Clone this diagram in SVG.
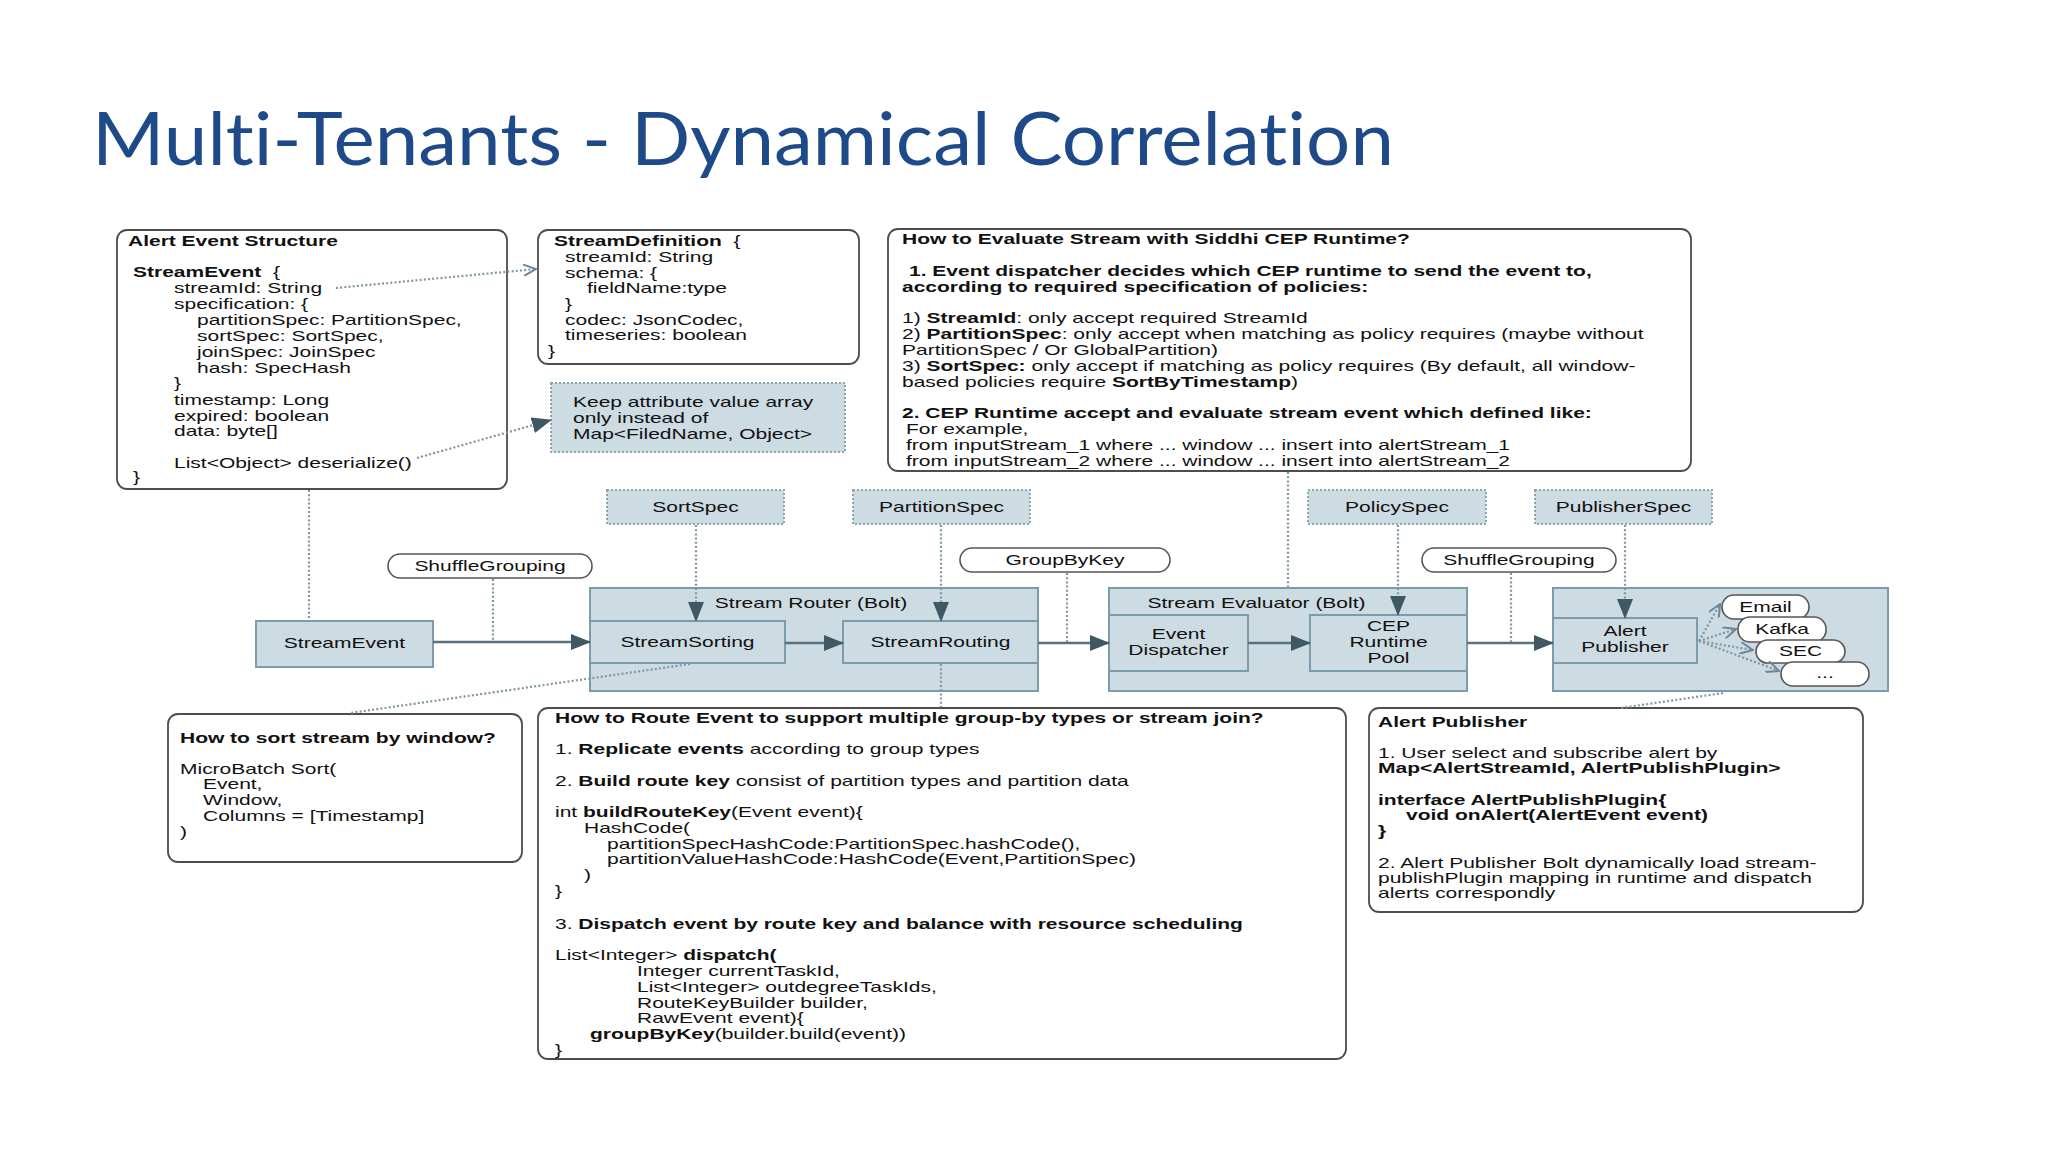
<svg xmlns="http://www.w3.org/2000/svg" width="2048" height="1152" viewBox="0 0 2048 1152">
<defs>
<style>
.t{font-family:"Liberation Sans",Arial,Helvetica,sans-serif;font-size:14px;fill:#111}
.b{font-weight:bold}
.c{text-anchor:middle}
.note{fill:#fff;stroke:#4d4d4d;stroke-width:1.8}
.node{fill:#cddbe2;stroke:#7d9cab;stroke-width:2}
.spec{fill:#cddbe2;stroke:#8ea6b2;stroke-width:2;stroke-dasharray:2 2}
.pill{fill:#fff;stroke:#555;stroke-width:1.6}
.flow{stroke:#5a727d;stroke-width:2.5;fill:none}
.dot{stroke:#7f97a3;stroke-width:2.2;fill:none;stroke-dasharray:2 2.2}
.title{font-family:Lato,"Open Sans",sans-serif;font-size:74px;fill:#1f4a8a;font-variant-ligatures:none}
</style>
<marker id="ah" viewBox="0 0 20 16" markerWidth="20" markerHeight="16" refX="19" refY="8" orient="auto" markerUnits="userSpaceOnUse">
<path d="M0,0 L20,8 L0,16 z" fill="#3f5863"/>
</marker>
<marker id="oh" viewBox="0 0 14 12" markerWidth="14" markerHeight="12" refX="13" refY="6" orient="auto" markerUnits="userSpaceOnUse">
<path d="M0,0 L13,6 L0,12" fill="none" stroke="#6d8794" stroke-width="2"/>
</marker>
</defs>
<rect width="2048" height="1152" fill="#fff"/>
<text class="title" x="92" y="165" textLength="1302" lengthAdjust="spacingAndGlyphs">Multi-Tenants - Dynamical Correlation</text>

<g id="alert-event-structure">
<rect class="note" x="117" y="230" width="390" height="259" rx="10"/>
<g transform="scale(1.5 1)">
<text class="t b" x="85.33" y="246">Alert Event Structure</text>
<text class="t" x="88.67" y="277"><tspan class="b">StreamEvent</tspan>&#160; {</text>
<text class="t" x="116" y="293">streamId: String</text>
<text class="t" x="116" y="309">specification: {</text>
<text class="t" x="131.33" y="325">partitionSpec: PartitionSpec,</text>
<text class="t" x="131.33" y="341">sortSpec: SortSpec,</text>
<text class="t" x="131.33" y="357">joinSpec: JoinSpec</text>
<text class="t" x="131.33" y="373">hash: SpecHash</text>
<text class="t" x="116" y="388">}</text>
<text class="t" x="116" y="405">timestamp: Long</text>
<text class="t" x="116" y="421">expired: boolean</text>
<text class="t" x="116" y="436">data: byte[]</text>
<text class="t" x="116" y="468">List&lt;Object&gt; deserialize()</text>
<text class="t" x="88.67" y="482">}</text>
</g>
</g>

<g id="stream-definition">
<rect class="note" x="538" y="230" width="321" height="134" rx="10"/>
<g transform="scale(1.5 1)">
<text class="t" x="369.33" y="246"><tspan class="b">StreamDefinition</tspan>&#160; {</text>
<text class="t" x="376.67" y="262">streamId: String</text>
<text class="t" x="376.67" y="278">schema: {</text>
<text class="t" x="391.33" y="293">fieldName:type</text>
<text class="t" x="376.67" y="309">}</text>
<text class="t" x="376.67" y="325">codec: JsonCodec,</text>
<text class="t" x="376.67" y="340">timeseries: boolean</text>
<text class="t" x="365.33" y="356">}</text>
</g>
</g>

<g id="keep-attribute">
<rect class="spec" x="551" y="383" width="294" height="69"/>
<g transform="scale(1.5 1)">
<text class="t" x="382" y="407">Keep attribute value array</text>
<text class="t" x="382" y="423">only instead of</text>
<text class="t" x="382" y="439">Map&lt;FiledName, Object&gt;</text>
</g>
</g>

<g id="evaluate-note">
<rect class="note" x="888" y="229" width="803" height="242" rx="10"/>
<g transform="scale(1.5 1)">
<text class="t b" x="601.33" y="244">How to Evaluate Stream with Siddhi CEP Runtime?</text>
<text class="t b" x="606" y="276">1. Event dispatcher decides which CEP runtime to send the event to,</text>
<text class="t b" x="601.33" y="292">according to required specification of policies:</text>
<text class="t" x="601.33" y="323">1) <tspan class="b">StreamId</tspan>: only accept required StreamId</text>
<text class="t" x="601.33" y="339">2) <tspan class="b">PartitionSpec</tspan>: only accept when matching as policy requires (maybe without</text>
<text class="t" x="601.33" y="355">PartitionSpec / Or GlobalPartition)</text>
<text class="t" x="601.33" y="371">3) <tspan class="b">SortSpec:</tspan> only accept if matching as policy requires (By default, all window-</text>
<text class="t" x="601.33" y="387">based policies require <tspan class="b">SortByTimestamp</tspan>)</text>
<text class="t b" x="601.33" y="418">2. CEP Runtime accept and evaluate stream event which defined like:</text>
<text class="t" x="604" y="434">For example,</text>
<text class="t" x="604" y="450">from inputStream_1 where ... window ... insert into alertStream_1</text>
<text class="t" x="604" y="466">from inputStream_2 where ... window ... insert into alertStream_2</text>
</g>
</g>

<g id="sortspec">
<rect class="spec" x="607" y="490" width="177" height="34"/>
<text class="t c" transform="scale(1.5 1)" x="463.67" y="512">SortSpec</text>
</g>
<g id="partitionspec">
<rect class="spec" x="853" y="490" width="177" height="34"/>
<text class="t c" transform="scale(1.5 1)" x="627.67" y="512">PartitionSpec</text>
</g>
<g id="policyspec">
<rect class="spec" x="1308" y="490" width="178" height="34"/>
<text class="t c" transform="scale(1.5 1)" x="931.33" y="512">PolicySpec</text>
</g>
<g id="publisherspec">
<rect class="spec" x="1535" y="490" width="177" height="34"/>
<text class="t c" transform="scale(1.5 1)" x="1082.33" y="512">PublisherSpec</text>
</g>

<g id="shuffle-grouping-1">
<rect class="pill" x="388" y="554" width="204" height="24" rx="12"/>
<text class="t c" transform="scale(1.5 1)" x="326.67" y="571">ShuffleGrouping</text>
</g>
<g id="group-by-key">
<rect class="pill" x="960" y="548" width="210" height="24" rx="12"/>
<text class="t c" transform="scale(1.5 1)" x="710" y="565">GroupByKey</text>
</g>
<g id="shuffle-grouping-2">
<rect class="pill" x="1422" y="548" width="194" height="24" rx="12"/>
<text class="t c" transform="scale(1.5 1)" x="1012.67" y="565">ShuffleGrouping</text>
</g>

<g id="stream-event">
<rect class="node" x="256" y="621" width="177" height="46"/>
<text class="t c" transform="scale(1.5 1)" x="229.67" y="648">StreamEvent</text>
</g>

<g id="stream-router">
<rect class="node" x="590" y="588" width="448" height="103"/>
<text class="t c" transform="scale(1.5 1)" x="540.67" y="608">Stream Router (Bolt)</text>
</g>
<g id="stream-sorting">
<rect class="node" x="590" y="621" width="195" height="42"/>
<text class="t c" transform="scale(1.5 1)" x="458.33" y="647">StreamSorting</text>
</g>
<g id="stream-routing">
<rect class="node" x="843" y="621" width="195" height="42"/>
<text class="t c" transform="scale(1.5 1)" x="627" y="647">StreamRouting</text>
</g>

<g id="stream-evaluator">
<rect class="node" x="1109" y="588" width="358" height="103"/>
<text class="t c" transform="scale(1.5 1)" x="837.67" y="608">Stream Evaluator (Bolt)</text>
</g>
<g id="event-dispatcher">
<rect class="node" x="1109" y="615" width="139" height="56"/>
<g transform="scale(1.5 1)">
<text class="t c" x="785.67" y="639">Event</text>
<text class="t c" x="785.67" y="655">Dispatcher</text>
</g>
</g>
<g id="cep-runtime-pool">
<rect class="node" x="1310" y="615" width="157" height="56"/>
<g transform="scale(1.5 1)">
<text class="t c" x="925.67" y="631">CEP</text>
<text class="t c" x="925.67" y="647">Runtime</text>
<text class="t c" x="925.67" y="663">Pool</text>
</g>
</g>

<g id="alert-publisher-bolt">
<rect class="node" x="1553" y="588" width="335" height="103"/>
</g>
<g id="alert-publisher">
<rect class="node" x="1553" y="618" width="144" height="45"/>
<g transform="scale(1.5 1)">
<text class="t c" x="1083.33" y="636">Alert</text>
<text class="t c" x="1083.33" y="652">Publisher</text>
</g>
</g>
<g id="email">
<rect class="pill" x="1722" y="595" width="87" height="24" rx="12"/>
<text class="t c" transform="scale(1.5 1)" x="1177" y="612">Email</text>
</g>
<g id="kafka">
<rect class="pill" x="1738" y="617" width="88" height="25" rx="12"/>
<text class="t c" transform="scale(1.5 1)" x="1188" y="634">Kafka</text>
</g>
<g id="sec">
<rect class="pill" x="1756" y="640" width="89" height="23" rx="11.5"/>
<text class="t c" transform="scale(1.5 1)" x="1200.33" y="656">SEC</text>
</g>
<g id="more">
<rect class="pill" x="1781" y="662" width="88" height="24" rx="12"/>
<text class="t c" transform="scale(1.5 1)" x="1216.67" y="678">...</text>
</g>

<g id="sort-note">
<rect class="note" x="168" y="714" width="354" height="148" rx="10"/>
<g transform="scale(1.5 1)">
<text class="t b" x="120" y="743">How to sort stream by window?</text>
<text class="t" x="120" y="774">MicroBatch Sort(</text>
<text class="t" x="135.33" y="789">Event,</text>
<text class="t" x="135.33" y="805">Window,</text>
<text class="t" x="135.33" y="821">Columns = [Timestamp]</text>
<text class="t" x="120" y="837">)</text>
</g>
</g>

<g id="route-note">
<rect class="note" x="538" y="708" width="808" height="351" rx="10"/>
<g transform="scale(1.5 1)">
<text class="t b" x="370" y="723">How to Route Event to support multiple group-by types or stream join?</text>
<text class="t" x="370" y="754">1. <tspan class="b">Replicate events</tspan> according to group types</text>
<text class="t" x="370" y="786">2. <tspan class="b">Build route key</tspan> consist of partition types and partition data</text>
<text class="t" x="370" y="817">int <tspan class="b">buildRouteKey</tspan>(Event event){</text>
<text class="t" x="389.33" y="833">HashCode(</text>
<text class="t" x="404.67" y="849">partitionSpecHashCode:PartitionSpec.hashCode(),</text>
<text class="t" x="404.67" y="864">partitionValueHashCode:HashCode(Event,PartitionSpec)</text>
<text class="t" x="389.33" y="880">)</text>
<text class="t" x="370" y="896">}</text>
<text class="t" x="370" y="929">3. <tspan class="b">Dispatch event by route key and balance with resource scheduling</tspan></text>
<text class="t" x="370" y="960">List&lt;Integer&gt; <tspan class="b">dispatch(</tspan></text>
<text class="t" x="424.67" y="976">Integer currentTaskId,</text>
<text class="t" x="424.67" y="992">List&lt;Integer&gt; outdegreeTaskIds,</text>
<text class="t" x="424.67" y="1008">RouteKeyBuilder builder,</text>
<text class="t" x="424.67" y="1023">RawEvent event){</text>
<text class="t" x="393.33" y="1039"><tspan class="b">groupByKey</tspan>(builder.build(event))</text>
<text class="t" x="370" y="1055">}</text>
</g>
</g>

<g id="alert-publisher-note">
<rect class="note" x="1369" y="708" width="494" height="204" rx="10"/>
<g transform="scale(1.5 1)">
<text class="t b" x="918.67" y="727">Alert Publisher</text>
<text class="t" x="918.67" y="758">1. User select and subscribe alert by</text>
<text class="t b" x="918.67" y="773">Map&lt;AlertStreamId, AlertPublishPlugin&gt;</text>
<text class="t b" x="918.67" y="805">interface AlertPublishPlugin{</text>
<text class="t b" x="937.33" y="820">void onAlert(AlertEvent event)</text>
<text class="t b" x="918.67" y="836">}</text>
<text class="t" x="918.67" y="868">2. Alert Publisher Bolt dynamically load stream-</text>
<text class="t" x="918.67" y="883">publishPlugin mapping in runtime and dispatch</text>
<text class="t" x="918.67" y="898">alerts correspondly</text>
</g>
</g>

<g id="connectors">
<line class="dot" x1="336" y1="288" x2="536" y2="269" marker-end="url(#oh)"/>
<line class="dot" x1="417" y1="458" x2="551" y2="420" marker-end="url(#ah)"/>
<line class="dot" x1="309" y1="490" x2="309" y2="620"/>
<line class="dot" x1="493" y1="579" x2="493" y2="642"/>
<line class="dot" x1="696" y1="525" x2="696" y2="621" marker-end="url(#ah)"/>
<line class="dot" x1="941" y1="525" x2="941" y2="621" marker-end="url(#ah)"/>
<line class="dot" x1="1067" y1="573" x2="1067" y2="643"/>
<line class="dot" x1="1288" y1="472" x2="1288" y2="588"/>
<line class="dot" x1="1398" y1="525" x2="1398" y2="615" marker-end="url(#ah)"/>
<line class="dot" x1="1511" y1="573" x2="1511" y2="643"/>
<line class="dot" x1="1625" y1="525" x2="1625" y2="618" marker-end="url(#ah)"/>
<line class="dot" x1="690" y1="664" x2="350" y2="713"/>
<line class="dot" x1="941" y1="664" x2="941" y2="707"/>
<line class="dot" x1="1723" y1="693" x2="1621" y2="708"/>
<line class="dot" x1="1699" y1="641" x2="1720" y2="604" marker-end="url(#oh)"/>
<line class="dot" x1="1699" y1="641" x2="1736" y2="629" marker-end="url(#oh)"/>
<line class="dot" x1="1699" y1="641" x2="1753" y2="650" marker-end="url(#oh)"/>
<line class="dot" x1="1699" y1="641" x2="1779" y2="671" marker-end="url(#oh)"/>
<line class="flow" x1="433" y1="642" x2="590" y2="642" marker-end="url(#ah)"/>
<line class="flow" x1="785" y1="643" x2="843" y2="643" marker-end="url(#ah)"/>
<line class="flow" x1="1038" y1="643" x2="1109" y2="643" marker-end="url(#ah)"/>
<line class="flow" x1="1248" y1="643" x2="1310" y2="643" marker-end="url(#ah)"/>
<line class="flow" x1="1467" y1="643" x2="1553" y2="643" marker-end="url(#ah)"/>
</g>
</svg>
